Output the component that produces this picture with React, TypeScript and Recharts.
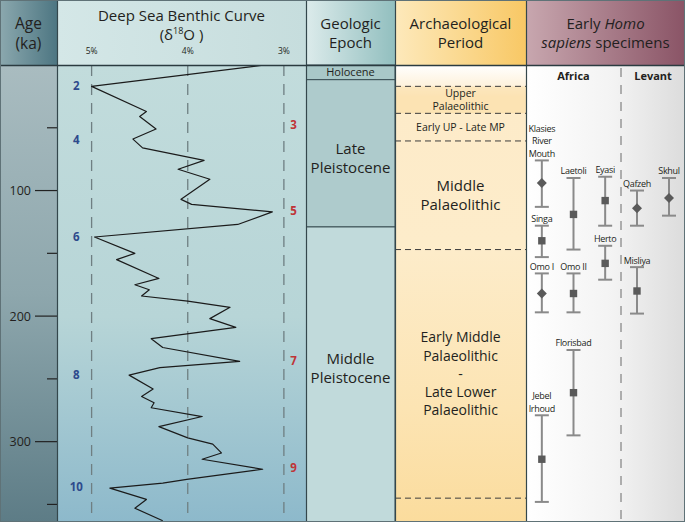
import React from "react";
import {
  ComposedChart,
  ScatterChart,
  Line,
  Scatter,
  XAxis,
  YAxis,
  ReferenceLine,
  ReferenceArea,
  ErrorBar,
} from "recharts";

// ---- data ----
const curveAge = [0, 17, 37, 41, 51, 59, 66, 76, 83, 91, 107, 111, 117, 127, 137, 150, 155, 170, 175, 179, 184, 188, 193, 202, 209, 218, 225, 236, 241, 247, 258, 264, 269, 273, 280, 288, 297, 302, 309, 314, 322, 330, 333, 337, 346, 353, 363];
const curveD18O = [3.2, 5.0, 4.43, 4.5, 4.33, 4.57, 4.47, 3.83, 4.1, 3.77, 4.07, 3.96, 3.12, 3.48, 4.97, 4.55, 4.74, 4.3, 4.55, 4.4, 4.48, 4.0, 3.56, 3.77, 3.5, 4.38, 4.26, 3.46, 4.29, 4.61, 4.36, 4.48, 4.35, 4.38, 3.85, 4.3, 4.0, 3.74, 3.65, 3.85, 3.22, 4.01, 4.26, 4.81, 4.43, 4.55, 4.26];
const d18oTicks = [5, 4, 3];

const misStage = [2, 3, 4, 5, 6, 7, 8, 9, 10];
const misAge = [17, 48, 60, 116, 137, 236, 247, 321, 336];

const ageTicks = [50, 100, 150, 200, 250, 300, 350];

const epochNames = ["Holocene", "Late\nPleistocene", "Middle\nPleistocene"];
const epochStart = [0, 11.7, 129];
const epochEnd = [11.7, 129, 774];

const periodNames = ["Upper\nPalaeolithic", "Early UP - Late MP", "Middle\nPalaeolithic", "Early Middle\nPalaeolithic\n-\nLate Lower\nPalaeolithic"];
const periodStart = [17, 38.5, 60.5, 147];
const periodEnd = [38.5, 60.5, 147, 345];

const africaNames = ["Klasies\nRiver\nMouth", "Singa", "Omo I", "Jebel\nIrhoud", "Laetoli", "Omo II", "Florisbad", "Eyasi", "Herto"];
const africaCol = [0, 0, 0, 0, 1, 1, 1, 2, 2];
const africaAge = [94, 140, 182, 314, 119, 182, 261, 108, 158];
const africaMin = [76, 128, 166, 279, 90, 166, 227, 89, 144];
const africaMax = [113, 153, 197, 348, 147, 197, 295, 128, 171];
const africaMarker = ["diamond", "square", "diamond", "square", "square", "square", "square", "square", "square"];

const levantNames = ["Qafzeh", "Misliya", "Skhul"];
const levantCol = [0, 0, 1];
const levantAge = [114, 180, 106];
const levantMin = [100, 161, 90];
const levantMax = [128, 198, 120];
const levantMarker = ["diamond", "square", "diamond"];

// ---- layout ----
const W = 685;
const H = 522;
const HEAD = 65;
const AGE_MAX = 364;
const X_AGE = 0, X_BEN = 57, X_EPO = 306, X_PER = 395, X_SPE = 526, X_LEV = 621;
const FONT = '"Open Sans", "Noto Sans", sans-serif';
const INK = "#231f20";

const curveData = curveAge.map((age, i) => ({ age, d18o: curveD18O[i] }));
const misData = misStage.map((s, i) => ({ stage: s, age: misAge[i], d18o: s % 2 === 0 ? 5.16 : 2.9 }));

function AgeTick(props: any) {
  const { y, payload } = props;
  const major = payload.value % 100 === 0;
  return (
    <g>
      <line x1={X_BEN - (major ? 22 : 10)} x2={X_BEN} y1={y} y2={y} stroke="#222" strokeWidth={1.2} />
      {major && (
        <text x={31} y={y} dy={4.5} textAnchor="end" fontSize={12.5} fill={INK} fontFamily={FONT}>
          {payload.value}
        </text>
      )}
    </g>
  );
}

function PctTick(props: any) {
  const { x, payload } = props;
  return (
    <text x={x} y={HEAD - 11} textAnchor="middle" fontSize={8.5} fill={INK} fontFamily={FONT}>
      {`${payload.value}%`}
    </text>
  );
}

function MisLabel(p: any) {
  const even = p.payload.stage % 2 === 0;
  return (
    <text x={p.cx} y={p.cy} dy={4} textAnchor="middle" fontWeight={700} fontSize={11.5} fontFamily={FONT} fill={even ? "#2e4a8c" : "#bf3437"}>
      {p.payload.stage}
    </text>
  );
}

function MultiLabel({ viewBox, text, size, shift = 0 }: any) {
  const lines = String(text).split("\n");
  const lh = size * 1.3;
  const cx = viewBox.x + viewBox.width / 2;
  const cy = viewBox.y + viewBox.height / 2 + shift;
  const y0 = cy - ((lines.length - 1) * lh) / 2;
  return (
    <text textAnchor="middle" fontSize={size} fill={INK} fontFamily={FONT}>
      {lines.map((l, i) => (
        <tspan key={i} x={cx} y={y0 + i * lh} dy={size * 0.35}>
          {l}
        </tspan>
      ))}
    </text>
  );
}

function BenthicChart() {
  return (
    <ComposedChart layout="vertical" width={X_EPO} height={H} data={curveData} margin={{ top: HEAD - 20, right: 0, bottom: 0, left: 0 }}>
      <XAxis
        type="number"
        dataKey="d18o"
        orientation="top"
        height={20}
        domain={[2.77, 5.36]}
        reversed
        allowDataOverflow
        ticks={d18oTicks}
        axisLine={false}
        tickLine={false}
        tick={<PctTick />}
      />
      <YAxis
        type="number"
        dataKey="age"
        domain={[0, AGE_MAX]}
        allowDataOverflow
        ticks={ageTicks}
        width={X_BEN}
        axisLine={false}
        tickLine={false}
        tick={<AgeTick />}
      />
      {d18oTicks.map((v) => (
        <ReferenceLine key={v} x={v} stroke="#6f7f82" strokeWidth={1.3} strokeDasharray="11 8" />
      ))}
      <Line dataKey="d18o" type="linear" stroke="#1b1b1b" strokeWidth={1.2} strokeLinejoin="round" dot={false} isAnimationActive={false} />
      <Scatter data={misData} dataKey="d18o" shape={MisLabel} isAnimationActive={false} />
    </ComposedChart>
  );
}

const epochFill = ["#a9c8c8", "#aecbcc", "#c1dadb"];

function EpochChart() {
  const data = epochNames.map((n, i) => ({ name: n, y1: epochStart[i], y2: Math.min(epochEnd[i], AGE_MAX) }));
  return (
    <ComposedChart width={X_PER - X_EPO} height={H} data={data} margin={{ top: HEAD, right: 0, bottom: 0, left: 0 }}>
      <XAxis type="number" hide domain={[0, 1]} />
      <YAxis type="number" hide domain={[0, AGE_MAX]} reversed allowDataOverflow />
      {data.map((d, i) => (
        <ReferenceArea
          key={d.name}
          y1={d.y1}
          y2={d.y2}
          fill={epochFill[i]}
          fillOpacity={1}
          stroke="#3b4f54"
          strokeWidth={1}
          ifOverflow="visible"
          label={(p: any) => <MultiLabel viewBox={p.viewBox} text={d.name} size={i === 0 ? 11 : 15} shift={i === 1 ? 5 : i === 2 ? -6 : 0} />}
        />
      ))}
    </ComposedChart>
  );
}

function PeriodChart() {
  const data = periodNames.map((n, i) => ({ name: n, y1: periodStart[i], y2: periodEnd[i] }));
  const bounds = [...periodStart, periodEnd[periodEnd.length - 1]];
  return (
    <ComposedChart width={X_SPE - X_PER} height={H} data={data} margin={{ top: HEAD, right: 0, bottom: 0, left: 0 }}>
      <XAxis type="number" hide domain={[0, 1]} />
      <YAxis type="number" hide domain={[0, AGE_MAX]} reversed allowDataOverflow />
      {data.map((d, i) => (
        <ReferenceArea
          key={d.name}
          y1={d.y1}
          y2={d.y2}
          fill={i === 0 ? "#f9d48a" : "#ffffff"}
          fillOpacity={i === 0 ? 0.35 : 0}
          label={(p: any) => <MultiLabel viewBox={p.viewBox} text={d.name} size={d.y2 - d.y1 < 40 ? 10.5 : i === 2 ? 15 : 14} />}
        />
      ))}
      {bounds.map((b) => (
        <ReferenceLine key={b} y={b} stroke="#3c3c3c" strokeWidth={1} strokeDasharray="6 4" />
      ))}
    </ComposedChart>
  );
}

function SpecMarker(p: any) {
  if (p.cx == null) return null;
  if (p.payload.marker === "diamond") {
    const r = 5;
    return <polygon points={`${p.cx},${p.cy - r} ${p.cx + r},${p.cy} ${p.cx},${p.cy + r} ${p.cx - r},${p.cy}`} fill="#5a5a5a" />;
  }
  return <rect x={p.cx - 3.7} y={p.cy - 3.7} width={7.4} height={7.4} fill="#5a5a5a" />;
}

function SpecLabel(p: any) {
  if (p.cx == null) return null;
  const lines = String(p.payload.name).split("\n");
  const lh = 12.5;
  const base = p.cy - 3.5;
  return (
    <text textAnchor="middle" fontSize={9} fill={INK} fontFamily={FONT} letterSpacing={-0.3}>
      {lines.map((l, i) => (
        <tspan key={i} x={p.cx} y={base - (lines.length - 1 - i) * lh}>
          {l}
        </tspan>
      ))}
    </text>
  );
}

function SpecimenChart({ names, col, age, min, max, marker, width, cols }: any) {
  const table = names.map((n: string, i: number) => ({
    name: n,
    col: col[i],
    age: age[i],
    marker: marker[i],
    err: [age[i] - min[i], max[i] - age[i]],
  }));
  const labels = names.map((n: string, i: number) => ({ name: n, col: col[i], age: min[i] }));
  return (
    <ScatterChart width={width} height={H} margin={{ top: HEAD, right: 0, bottom: 0, left: 0 }}>
      <XAxis type="number" dataKey="col" hide domain={[-0.5, cols - 0.5]} allowDataOverflow />
      <YAxis type="number" dataKey="age" hide domain={[0, AGE_MAX]} reversed allowDataOverflow />
      <Scatter data={table} shape={SpecMarker} isAnimationActive={false}>
        <ErrorBar dataKey="err" direction="y" width={7} stroke="#8a8a8a" strokeWidth={2} />
      </Scatter>
      <Scatter data={labels} shape={SpecLabel} isAnimationActive={false} />
    </ScatterChart>
  );
}

function Head({ left, width, bg, children, top = false, size = 15, lh = 19 }: any) {
  return (
    <div
      style={{
        position: "absolute",
        left,
        top: 0,
        width,
        height: HEAD,
        background: bg,
        display: "flex",
        flexDirection: "column",
        alignItems: "center",
        justifyContent: top ? "flex-start" : "center",
        paddingTop: top ? 6 : 0,
        boxSizing: "border-box",
        color: INK,
        fontSize: size,
        lineHeight: `${lh}px`,
        textAlign: "center",
        whiteSpace: "nowrap",
      }}
    >
      {children}
    </div>
  );
}

function Body({ left, width, bg }: any) {
  return <div style={{ position: "absolute", left, top: HEAD, width, height: H - HEAD, background: bg }} />;
}

function Place({ left, width, children }: any) {
  return <div style={{ position: "absolute", left, top: 0, width, height: H }}>{children}</div>;
}

export default function App() {
  return (
    <div style={{ position: "absolute", left: 0, top: 0, width: W, height: H, overflow: "hidden", fontFamily: FONT, background: "#fff" }}>
      <Body left={X_AGE} width={X_BEN} bg="linear-gradient(180deg, #a9bcc0 0%, #8ea7ad 50%, #5d7c86 100%)" />
      <Body left={X_BEN} width={X_EPO - X_BEN} bg="linear-gradient(180deg, #c2dcdc 0%, #b7d5d7 55%, #8db9cb 100%)" />
      <Body left={X_EPO} width={X_PER - X_EPO} bg="#c1dadb" />
      <Body left={X_PER} width={X_SPE - X_PER} bg="linear-gradient(180deg, #ffffff 0%, #fdebc9 7%, #fdecca 40%, #fce4b3 75%, #fbdc9d 100%)" />
      <Body left={X_SPE} width={W - X_SPE} bg="linear-gradient(90deg, #ffffff 0%, #f3f3f3 55%, #dcdcdc 100%)" />

      <Head left={X_AGE} width={X_BEN} bg="linear-gradient(90deg, #8ba8ae, #4d7682)" size={15.5} lh={20}>
        <div>Age</div>
        <div>(ka)</div>
      </Head>
      <Head left={X_BEN} width={X_EPO - X_BEN} bg="linear-gradient(90deg, #d4e7e7, #c6dddd)" top lh={19}>
        <div>Deep Sea Benthic Curve</div>
        <div>
          (δ<sup style={{ fontSize: 9, lineHeight: 0 }}>18</sup>O )
        </div>
      </Head>
      <Head left={X_EPO} width={X_PER - X_EPO} bg="linear-gradient(90deg, #dcebeb, #92bfbf)">
        <div>Geologic</div>
        <div>Epoch</div>
      </Head>
      <Head left={X_PER} width={X_SPE - X_PER} bg="linear-gradient(90deg, #fde9bb, #f8c865)">
        <div>Archaeological</div>
        <div>Period</div>
      </Head>
      <Head left={X_SPE} width={W - X_SPE} bg="linear-gradient(90deg, #c8a7af, #8a5466)">
        <div>
          Early <i>Homo</i>
        </div>
        <div>
          <i>sapiens</i> specimens
        </div>
      </Head>

      <Place left={X_AGE} width={X_EPO}>
        <BenthicChart />
      </Place>
      <Place left={X_EPO} width={X_PER - X_EPO}>
        <EpochChart />
      </Place>
      <Place left={X_PER} width={X_SPE - X_PER}>
        <PeriodChart />
      </Place>
      <Place left={X_SPE} width={X_LEV - X_SPE}>
        <SpecimenChart names={africaNames} col={africaCol} age={africaAge} min={africaMin} max={africaMax} marker={africaMarker} width={X_LEV - X_SPE} cols={3} />
      </Place>
      <Place left={X_LEV} width={W - X_LEV}>
        <SpecimenChart names={levantNames} col={levantCol} age={levantAge} min={levantMin} max={levantMax} marker={levantMarker} width={W - X_LEV} cols={2} />
      </Place>

      <div style={{ position: "absolute", left: X_SPE, top: HEAD + 3, width: X_LEV - X_SPE, textAlign: "center", fontSize: 11, fontWeight: 700, color: INK }}>Africa</div>
      <div style={{ position: "absolute", left: X_LEV, top: HEAD + 3, width: W - X_LEV, textAlign: "center", fontSize: 11, fontWeight: 700, color: INK }}>Levant</div>

      <svg width={W} height={H} style={{ position: "absolute", left: 0, top: 0, pointerEvents: "none" }}>
        <line x1={X_LEV} x2={X_LEV} y1={HEAD + 3} y2={H} stroke="#6a6a6a" strokeWidth={1} strokeDasharray="9 8" />
        {[X_BEN, X_EPO, X_PER, X_SPE].map((x) => (
          <line key={x} x1={x + 0.5} x2={x + 0.5} y1={0} y2={H} stroke="#34474c" strokeWidth={1.2} />
        ))}
        <line x1={0} x2={W} y1={HEAD + 0.5} y2={HEAD + 0.5} stroke="#2b3b40" strokeWidth={1.4} />
        <rect x={0.5} y={0.5} width={W - 1} height={H - 1} fill="none" stroke="#5f7277" strokeWidth={1} />
      </svg>
    </div>
  );
}
